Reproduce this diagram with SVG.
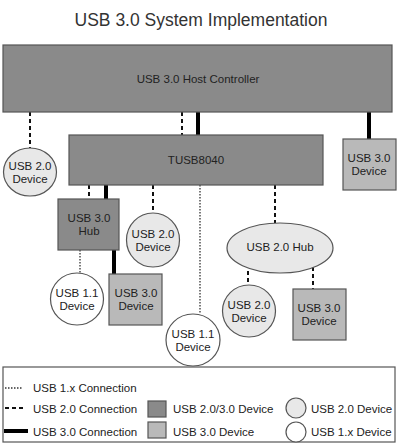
<svg xmlns="http://www.w3.org/2000/svg" width="400" height="446" viewBox="0 0 400 446">
<style>
text{font-family:"Liberation Sans",Arial,sans-serif;font-size:11.5px;fill:#222;text-anchor:middle}
.t{font-size:17.5px;fill:#333}
.l{text-anchor:start}
.dk{fill:#8a8a8a;stroke:#555;stroke-width:1.2}
.lt{fill:#b9b9b9;stroke:#555;stroke-width:1.2}
.c2{fill:#e8e8e8;stroke:#555;stroke-width:1.2}
.c1{fill:#fff;stroke:#555;stroke-width:1.2}
.dot{stroke:#333;stroke-width:1.3;stroke-dasharray:1.5 1.5;fill:none}
.dash{stroke:#111;stroke-width:2;stroke-dasharray:4 3;fill:none}
.thick{stroke:#000;stroke-width:4;fill:none}
</style>
<rect width="400" height="446" fill="#fff"/>
<text class="t" x="201" y="26">USB 3.0 System Implementation</text>
<g id="connectors">
<line class="dash" x1="30" y1="112" x2="30" y2="148"/>
<line class="dash" x1="182" y1="112" x2="182" y2="135"/>
<line class="thick" x1="198" y1="112" x2="198" y2="136"/>
<line class="thick" x1="369" y1="112" x2="369" y2="139"/>
<line class="dash" x1="89" y1="185" x2="89" y2="199"/>
<line class="thick" x1="106" y1="185" x2="106" y2="199"/>
<line class="dash" x1="153" y1="185" x2="153" y2="213"/>
<line class="dot" x1="200" y1="185" x2="200" y2="314"/>
<line class="dash" x1="275" y1="185" x2="275" y2="223"/>
<line class="dot" x1="80" y1="250" x2="80" y2="273"/>
<line class="thick" x1="114" y1="250" x2="114" y2="274"/>
<line class="dash" x1="248" y1="271" x2="248" y2="285"/>
<line class="dash" x1="313" y1="267" x2="313" y2="289"/>
</g>
<g id="host"><rect class="dk" x="3" y="45" width="389" height="67"/><text x="198" y="83">USB 3.0 Host Controller</text></g>
<g id="tusb"><rect class="dk" x="69" y="135" width="254" height="50"/><text x="196" y="164">TUSB8040</text></g>
<g id="dev20a"><ellipse class="c2" cx="30" cy="172" rx="26.5" ry="24"/><text x="30" y="170">USB 2.0</text><text x="30" y="183">Device</text></g>
<g id="dev30a"><rect class="lt" x="343" y="139" width="53" height="51"/><text x="369" y="162">USB 3.0</text><text x="369" y="175">Device</text></g>
<g id="hub30"><rect class="dk" x="58" y="199" width="61" height="51"/><text x="89" y="222">USB 3.0</text><text x="89" y="235">Hub</text></g>
<g id="dev20b"><ellipse class="c2" cx="153" cy="240" rx="26.5" ry="27"/><text x="153" y="238">USB 2.0</text><text x="153" y="251">Device</text></g>
<g id="hub20"><ellipse class="c2" cx="280" cy="248" rx="53" ry="25"/><text x="280" y="251">USB 2.0 Hub</text></g>
<g id="dev11a"><ellipse class="c1" cx="77" cy="299" rx="26.5" ry="26"/><text x="77" y="297">USB 1.1</text><text x="77" y="310">Device</text></g>
<g id="dev30b"><rect class="lt" x="109" y="274" width="53" height="51"/><text x="136" y="297">USB 3.0</text><text x="136" y="310">Device</text></g>
<g id="dev11b"><ellipse class="c1" cx="193" cy="340" rx="27" ry="26"/><text x="193" y="338">USB 1.1</text><text x="193" y="351">Device</text></g>
<g id="dev20c"><ellipse class="c2" cx="249" cy="311" rx="26.5" ry="26"/><text x="249" y="309">USB 2.0</text><text x="249" y="322">Device</text></g>
<g id="dev30c"><rect class="lt" x="293" y="289" width="53" height="51"/><text x="319" y="312">USB 3.0</text><text x="319" y="325">Device</text></g>
<g id="legend">
<rect x="3" y="367" width="392" height="75" fill="#fff" stroke="#555" stroke-width="1.2"/>
<line class="dot" x1="5" y1="388" x2="22" y2="388"/>
<text class="l" x="33" y="392">USB 1.x Connection</text>
<line class="dash" x1="5" y1="408" x2="26" y2="408"/>
<text class="l" x="33" y="413">USB 2.0 Connection</text>
<line class="thick" x1="4" y1="431" x2="28" y2="431"/>
<text class="l" x="33" y="436">USB 3.0 Connection</text>
<rect class="dk" x="148" y="401" width="18" height="16"/>
<text class="l" x="173" y="413">USB 2.0/3.0 Device</text>
<rect class="lt" x="148" y="422" width="18" height="16"/>
<text class="l" x="173" y="436">USB 3.0 Device</text>
<circle class="c2" cx="296" cy="408" r="10"/>
<text class="l" x="311" y="413">USB 2.0 Device</text>
<circle class="c1" cx="296" cy="432" r="10"/>
<text class="l" x="311" y="436">USB 1.x Device</text>
</g>
</svg>
